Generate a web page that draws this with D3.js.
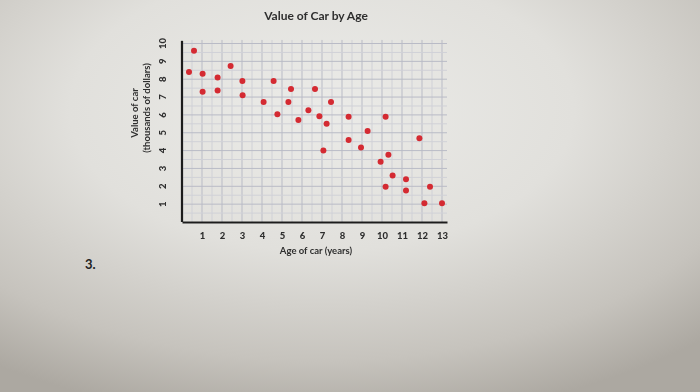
<!DOCTYPE html>
<html>
<head>
<meta charset="utf-8">
<script src="https://cdn.jsdelivr.net/npm/d3@7"></script>
<style>
  body { margin: 0; background: #d8d7d3; }
  svg { display: block; }
</style>
</head>
<body>
<div id="chart"></div>
<script>
// values
var ages = [0.35, 0.6, 1.03, 1.03, 1.78, 1.78, 2.43, 3.02, 3.03, 4.08, 4.58, 4.77,
  5.32, 5.45, 5.82, 6.32, 6.65, 6.87, 7.23, 7.45, 7.07, 8.33, 8.33, 8.95, 9.28,
  10.18, 9.93, 10.32, 10.18, 10.53, 11.2, 11.2, 11.87, 12.12, 12.4, 13.0];
var values = [8.4, 9.6, 8.31, 7.3, 8.1, 7.36, 8.74, 7.9, 7.1, 6.72, 7.9, 6.03,
  6.72, 7.45, 5.71, 6.26, 7.45, 5.92, 5.51, 6.72, 4.0, 5.9, 4.6, 4.18, 5.1,
  5.9, 3.38, 3.77, 1.98, 2.6, 2.39, 1.77, 4.69, 1.05, 1.98, 1.05];
var xTicks = [1, 2, 3, 4, 5, 6, 7, 8, 9, 10, 11, 12, 13];
var yTicks = [1, 2, 3, 4, 5, 6, 7, 8, 9, 10];

var width = 700, height = 392;
var x0 = 182, y0 = 222;

var x = d3.scaleLinear().domain([0, 13.25]).range([x0, x0 + 13.25 * 20]);
var y = d3.scaleLinear().domain([0, 10.2]).range([y0, y0 - 10.2 * 17.85]);

var svg = d3.select("#chart").append("svg")
  .attr("width", width)
  .attr("height", height);

var defs = svg.append("defs");
var grad = defs.append("radialGradient")
  .attr("id", "paper")
  .attr("cx", "46%").attr("cy", "28%").attr("r", "80%");
grad.append("stop").attr("offset", "0%").attr("stop-color", "#ebebe8");
grad.append("stop").attr("offset", "45%").attr("stop-color", "#e1e0dc");
grad.append("stop").attr("offset", "80%").attr("stop-color", "#c6c3bd");
grad.append("stop").attr("offset", "100%").attr("stop-color", "#aca8a1");

defs.append("filter").attr("id", "soft")
  .append("feGaussianBlur").attr("stdDeviation", 0.35);

svg.append("rect")
  .attr("width", width).attr("height", height)
  .attr("fill", "url(#paper)");

var plot = svg.append("g").attr("filter", "url(#soft)");

// graph paper grid
var gridX = d3.range(0.5, 13.3, 0.5);
var gridY = d3.range(0.5, 10.2, 0.5);

plot.append("g").selectAll("line")
  .data(gridX)
  .enter().append("line")
  .attr("x1", function(d) { return x(d); })
  .attr("x2", function(d) { return x(d); })
  .attr("y1", y(0)).attr("y2", y(10.2))
  .attr("stroke", function(d) { return d % 1 == 0 ? "#b9bbc6" : "#d0d1d7"; })
  .attr("stroke-width", 1);

plot.append("g").selectAll("line")
  .data(gridY)
  .enter().append("line")
  .attr("y1", function(d) { return y(d); })
  .attr("y2", function(d) { return y(d); })
  .attr("x1", x(0)).attr("x2", x(13.25))
  .attr("stroke", function(d) { return d % 1 == 0 ? "#b9bbc6" : "#d0d1d7"; })
  .attr("stroke-width", 1);

// axes
var xAxis = d3.axisBottom(x).tickValues(xTicks).tickSize(0).tickPadding(10);
var yAxis = d3.axisLeft(y).tickValues(yTicks).tickSize(0).tickPadding(18);

var gx = plot.append("g")
  .attr("transform", "translate(0," + y0 + ")")
  .call(xAxis);
gx.select(".domain").attr("stroke", "#1e1e1e").attr("stroke-width", 2.2);
gx.selectAll("text")
  .attr("fill", "#2e2e2e")
  .style("font-family", "Lato, sans-serif")
  .style("font-weight", "900")
  .style("font-size", "9.5px");

var gy = plot.append("g")
  .attr("transform", "translate(" + x0 + ",0)")
  .call(yAxis);
gy.select(".domain").attr("stroke", "#1e1e1e").attr("stroke-width", 2.2)
  .attr("d", "M0," + y(10.15) + "V" + y0);
gy.selectAll("text")
  .attr("fill", "#2e2e2e")
  .attr("text-anchor", "middle")
  .attr("x", -19)
  .attr("dy", "0.32em")
  .attr("transform", function(d) { return "rotate(-90," + (-19) + "," + y(d) + ")"; })
  .style("font-family", "Lato, sans-serif")
  .style("font-weight", "900")
  .style("font-size", "9.5px");
gy.selectAll(".tick text")
  .attr("y", function(d) { return y(d); });
gy.selectAll(".tick").attr("transform", null);

// points
plot.append("g").selectAll("circle")
  .data(ages)
  .enter().append("circle")
  .attr("cx", function(d) { return x(d); })
  .attr("cy", function(d, i) { return y(values[i]); })
  .attr("r", 3)
  .attr("fill", "#d42a30");

// titles
plot.append("text")
  .attr("x", 316).attr("y", 20)
  .attr("text-anchor", "middle")
  .attr("fill", "#2e2e2e")
  .style("font-family", "Lato, sans-serif")
  .style("font-weight", "bold")
  .style("font-size", "12px")
  .text("Value of Car by Age");

plot.append("text")
  .attr("x", 316).attr("y", 254)
  .attr("text-anchor", "middle")
  .attr("fill", "#2e2e2e")
  .style("font-family", "Lato, sans-serif")
  .style("font-weight", "bold")
  .style("font-size", "9.5px")
  .text("Age of car (years)");

plot.append("text")
  .attr("transform", "translate(138,113) rotate(-90)")
  .attr("text-anchor", "middle")
  .attr("fill", "#2e2e2e")
  .style("font-family", "Lato, sans-serif")
  .style("font-weight", "bold")
  .style("font-size", "9.5px")
  .text("Value of car");

plot.append("text")
  .attr("transform", "translate(150,108) rotate(-90)")
  .attr("text-anchor", "middle")
  .attr("fill", "#2e2e2e")
  .style("font-family", "Lato, sans-serif")
  .style("font-weight", "bold")
  .style("font-size", "9.5px")
  .text("(thousands of dollars)");

svg.append("text")
  .attr("x", 85).attr("y", 269)
  .attr("fill", "#222")
  .style("font-family", "Lato, sans-serif")
  .style("font-weight", "bold")
  .style("font-size", "13px")
  .text("3.");
</script>
</body>
</html>
